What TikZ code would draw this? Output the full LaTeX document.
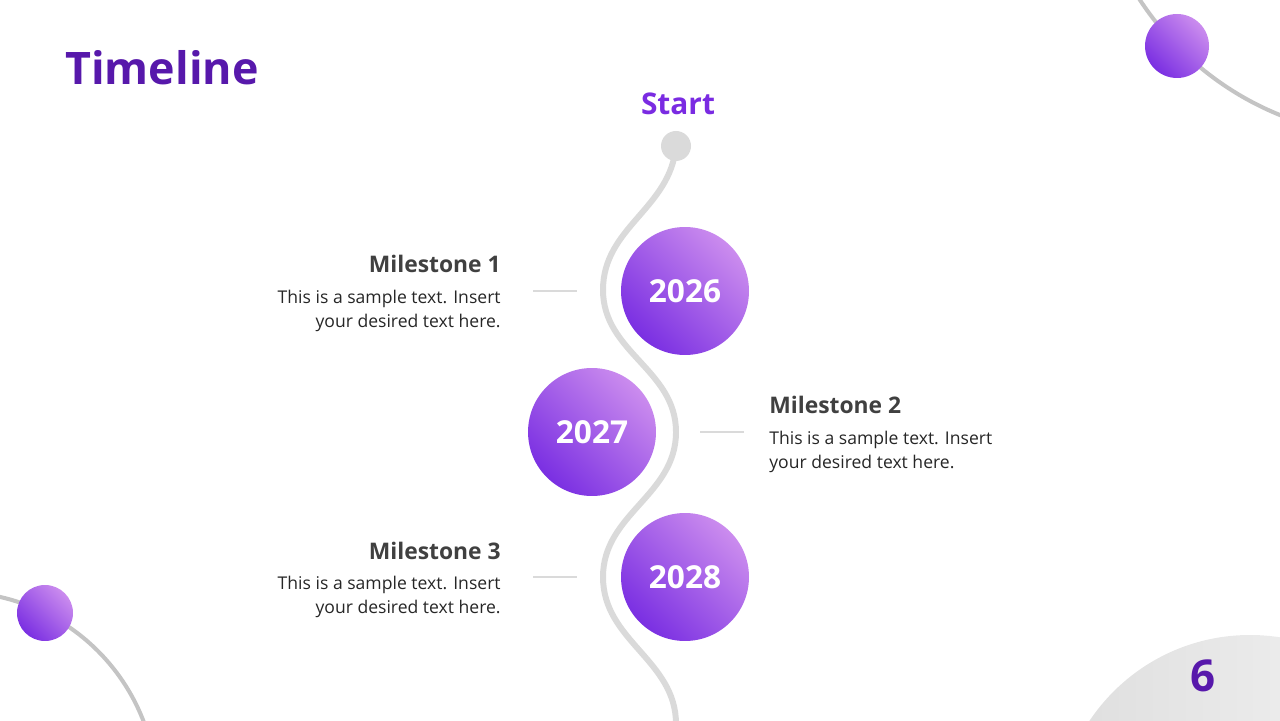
\documentclass[tikz,border=0pt]{standalone}
\usepackage{fontspec}
\setmainfont{Open Sans}
\usetikzlibrary{positioning}
\definecolor{titlepurple}{HTML}{5718AB}
\definecolor{startpurple}{HTML}{7A2BE2}
\definecolor{balldark}{HTML}{7A2FE2}
\definecolor{balllight}{HTML}{CB8CEE}
\definecolor{wavegray}{HTML}{DADADA}
\definecolor{arcgray}{HTML}{C4C4C4}
\definecolor{headgray}{HTML}{404040}
\definecolor{bodygray}{HTML}{262626}

\begin{document}
\begin{tikzpicture}[x=0.02cm,y=0.02cm,
   ball/.style={circle,inner sep=0pt,minimum size=2.56cm,
     bottom color=balldark,top color=balllight,shading angle=-45},
   year/.style={ball,text=white,font=\fontsize{18}{20}\selectfont\bfseries},
   mshead/.style={inner sep=0pt,text=headgray,font=\fontsize{13}{15}\selectfont\bfseries},
   mstext/.style={inner sep=0pt,text=bodygray,font=\fontsize{10}{13.7}\selectfont},
   tick/.style={wavegray,line width=1.7pt},
   wave/.style={wavegray,line width=3.4pt},
   deco/.style={arcgray,line width=2.3pt}]
  \useasboundingbox (0,0) rectangle (1280,720);
  \clip (0,0) rectangle (1280,720);

  % corner decorations
  \draw[deco] (1393.7,886.2) circle[radius=303.3];
  \node[ball,minimum size=1.28cm] (ballTR) at (1177,674) {};
  \draw[deco] (-44.5,-73.3) circle[radius=201.3];
  \node[ball,minimum size=1.12cm] (ballBL) at (45,107) {};
  \shade[left color=black!13,right color=black!4] (1250,-108) circle[radius=193];
  \node[font=\fontsize{25}{28}\selectfont\bfseries,text=titlepurple] (page) at (1203,44) {6};

  % headings
  \node[anchor=base west,inner sep=0pt,text=titlepurple,
        font=\fontsize{25.5}{30}\selectfont\bfseries] (title) at (65,635) {Timeline};
  \node[anchor=base,inner sep=0pt,text=startpurple,
        font=\fontsize{17}{20}\selectfont\bfseries] (start) at (678,605) {Start};

  % winding path
  \coordinate (w1) at (603,430);
  \coordinate (w2) at (676,288);
  \coordinate (w3) at (603,143);
  \coordinate (w4) at (676,-4);
  \coordinate (w0) at (676,574);
  \draw[wave] (w0) to[out=-95,in=90] (w1) to[out=-90,in=90] (w2)
    to[out=-90,in=90] (w3) to[out=-90,in=90] (w4);
  \node[circle,fill=wavegray,minimum size=0.6cm,inner sep=0pt] (dot) at (w0) {};

  % years
  \node[year] (y2026) at (685,429) {2026};
  \node[year] (y2027) at (592,288) {2027};
  \node[year] (y2028) at (685,143) {2028};

  \coordinate[left=0.88cm of y2026] (t1);
  \coordinate[right=0.88cm of y2027] (t2);
  \coordinate[left=0.88cm of y2028] (t3);
  \draw[tick] (t1) -- ++(-44,0);
  \draw[tick] (t2) -- ++(44,0);
  \draw[tick] (t3) -- ++(-44,0);

  % milestones
  \node[mshead,anchor=base east] (m1) at (501,447) {Milestone 1};
  \node[mstext,align=right,anchor=north east] (d1) at ([yshift=-0.34cm]m1.base east)
    {This is a sample text. Insert\\your desired text here.};
  \node[mshead,anchor=base west] (m2) at (769,306) {Milestone 2};
  \node[mstext,align=left,anchor=north west] (d2) at ([yshift=-0.34cm]m2.base west)
    {This is a sample text. Insert\\your desired text here.};
  \node[mshead,anchor=base east] (m3) at (501,161) {Milestone 3};
  \node[mstext,align=right,anchor=north east] (d3) at ([yshift=-0.34cm]m3.base east)
    {This is a sample text. Insert\\your desired text here.};
\end{tikzpicture}
\end{document}
